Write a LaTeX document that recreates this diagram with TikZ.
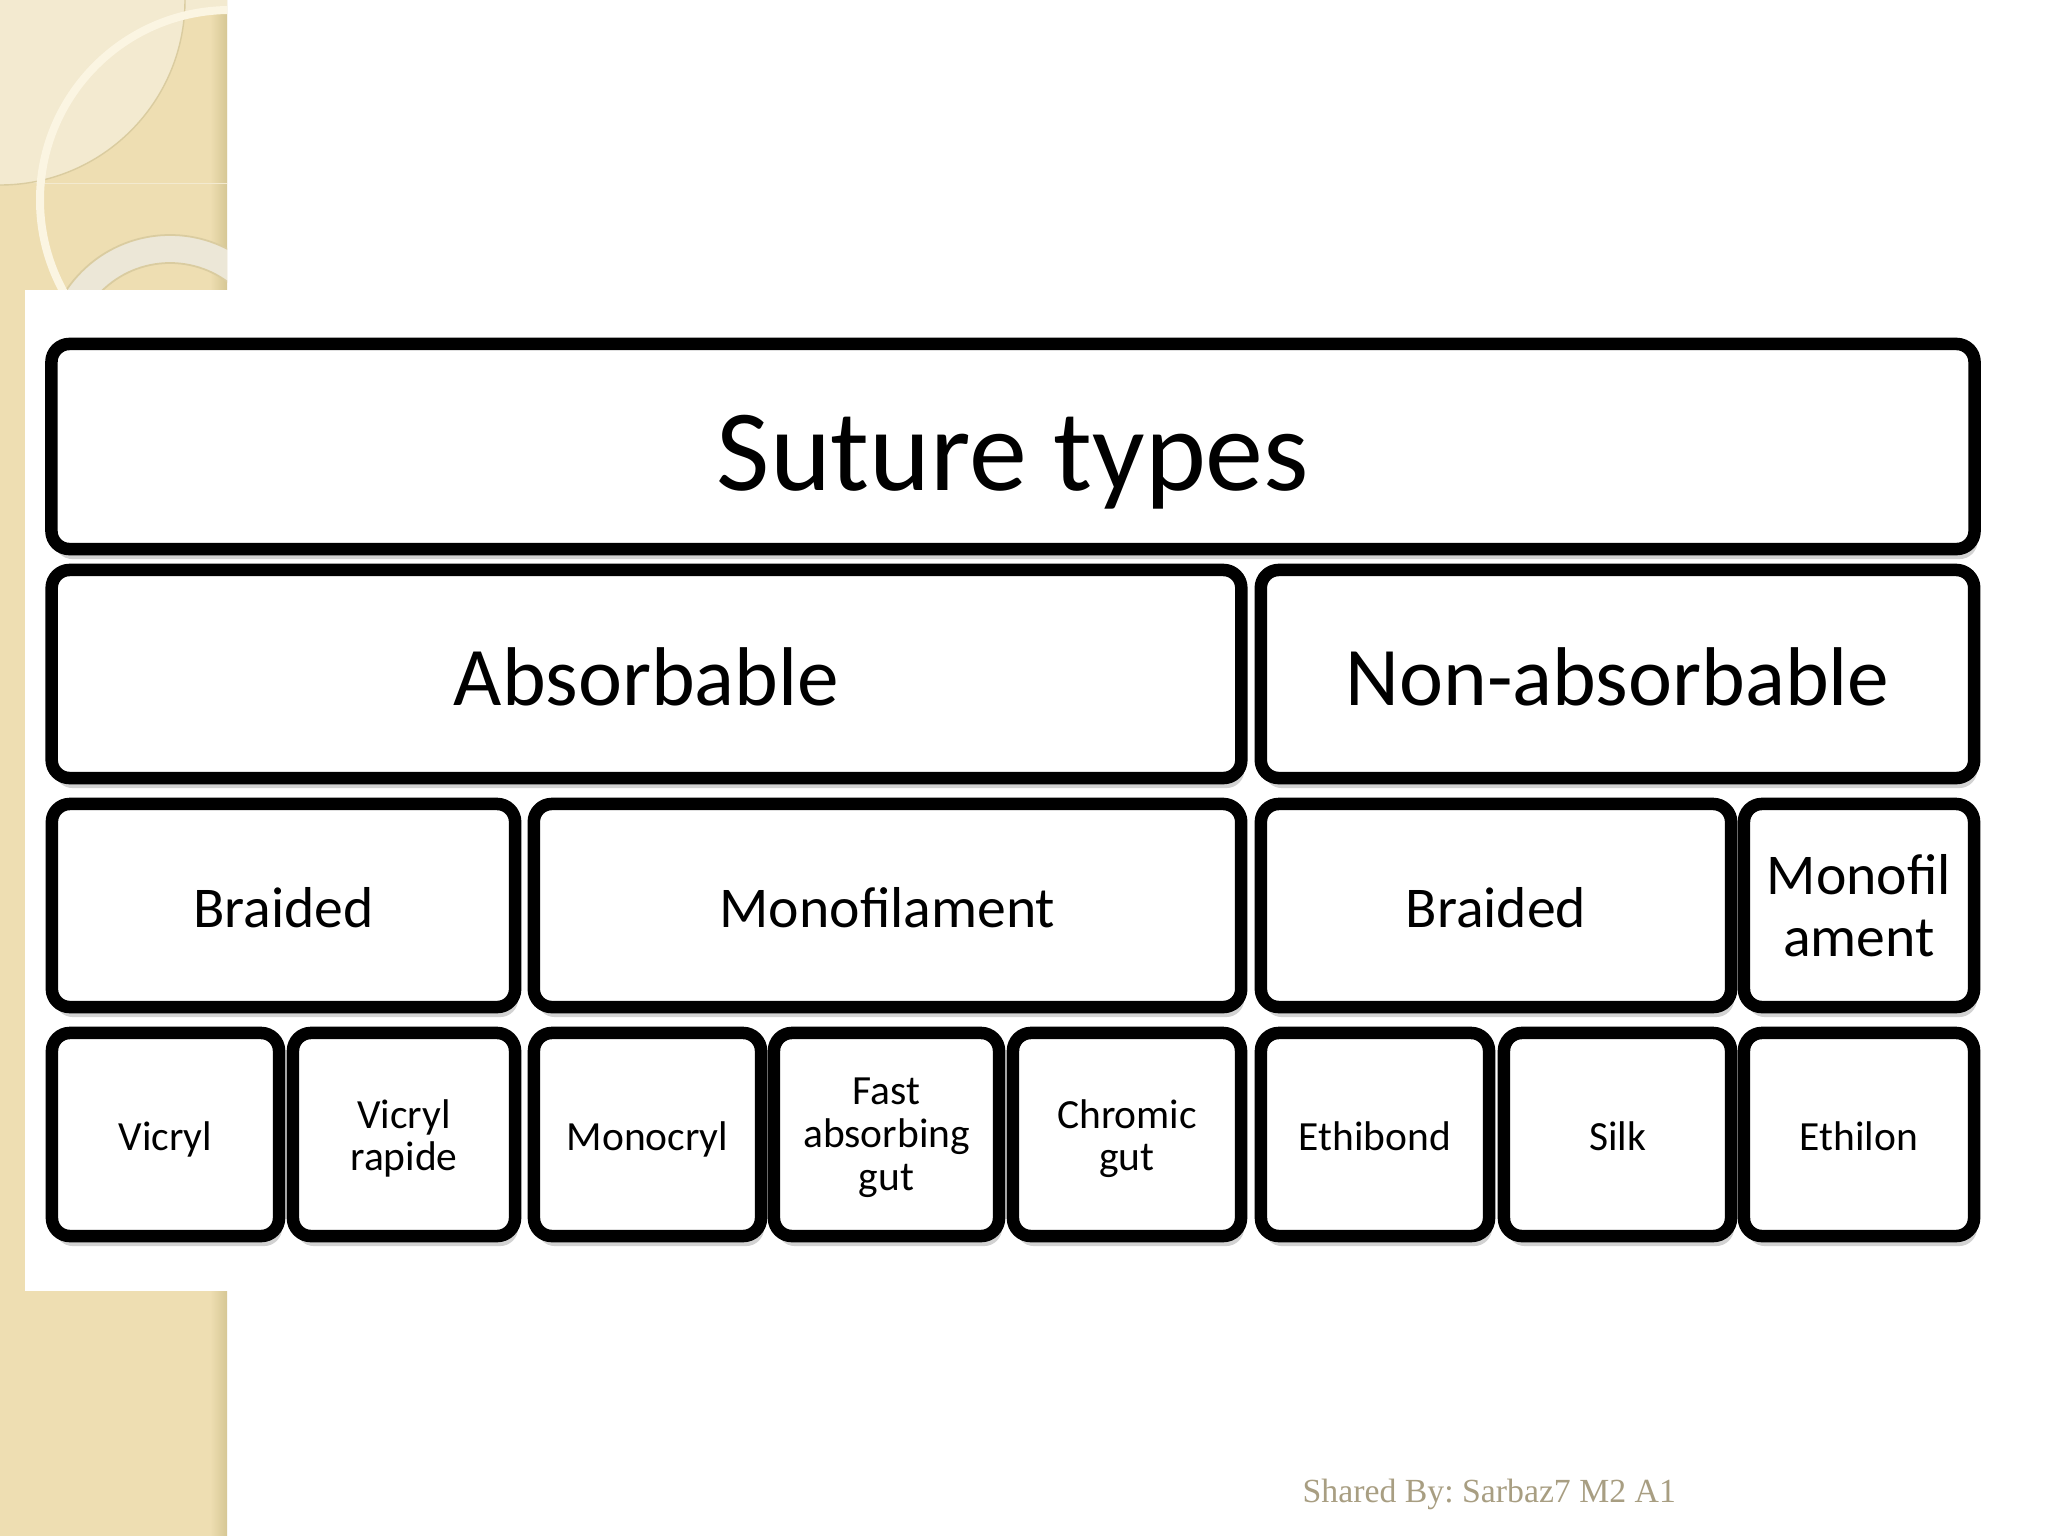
\documentclass[tikz,border=0pt]{standalone}
\usepackage{fontspec}
\setmainfont{Carlito}
\newfontfamily\creditfont{Liberation Serif}
\usepackage{xcolor}
\usepackage{tikz}
\usetikzlibrary{shadows}
\frenchspacing

\definecolor{stripbeige}{RGB}{238,222,178}
\definecolor{stripedge}{RGB}{214,199,148}
\definecolor{striplight}{RGB}{243,234,208}
\definecolor{arccream}{RGB}{251,245,226}
\definecolor{ringcream}{RGB}{236,231,215}
\definecolor{ringline}{RGB}{218,204,160}
\definecolor{creditgrey}{RGB}{168,158,130}

% stacked lines, first baseline on the node's base
\newcommand{\lines}[1]{\begin{tabular}[t]{@{}c@{}}#1\end{tabular}}

\tikzset{
  sbox/.style={draw=black,line width=0.125cm,rounded corners=0.18cm,fill=white,
    inner sep=0pt,outer sep=0pt,anchor=center,
    drop shadow={shadow xshift=0.03cm,shadow yshift=-0.1cm,opacity=.22,fill=black!80}},
  cell/.style 2 args={minimum width=#1cm,minimum height=#2cm},
  titlebox/.style={sbox,font=\fontsize{33}{40}\selectfont,text height=31.7pt,text depth=6.6pt},
  groupbox/.style={sbox,font=\fontsize{23.7}{28}\selectfont,text height=22.8pt,text depth=4.7pt},
  kindbox/.style={sbox,font=\fontsize{16.4}{17.6}\selectfont,text height=15.7pt,text depth=3.3pt},
  kindstack/.style={sbox,font=\fontsize{16.4}{17.6}\selectfont,text height=0pt,text depth=#1},
  itembox/.style={sbox,font=\fontsize{11.8}{12.1}\selectfont,text height=11.3pt,text depth=2.3pt},
  itemstack/.style={sbox,font=\fontsize{11.8}{12.1}\selectfont,text height=0pt,text depth=#1},
  credit/.style={font=\creditfont\fontsize{9.6}{11}\selectfont,text=creditgrey,inner sep=0pt}
}

\begin{document}
\begin{tikzpicture}[x=0.01cm,y=-0.01cm,line join=round]
  \useasboundingbox (0,0) rectangle (2048,1536);
  \fill[white] (0,0) rectangle (2048,1536);

  % ---------- beige side strip ----------
  \fill[stripbeige] (0,0) rectangle (227,1536);
  \shade[left color=stripbeige,right color=stripedge] (210,0) rectangle (227,1536);
  \begin{scope}
    \clip (0,0) rectangle (227,183);
    \fill[striplight,even odd rule] (0,0) rectangle (227,183) (230,200) circle (190);
  \end{scope}
  \begin{scope}
    \clip (0,0) rectangle (227,290);
    \fill[striplight] (0,0) circle (185);
    \draw[ringline,line width=0.4pt] (185,0) arc (0:90:185);
    % lower ring
    \fill[ringcream,even odd rule] (170,360) circle (125) (170,360) circle (97);
    \draw[ringline,line width=0.5pt] (170,360) circle (125) (170,360) circle (97);
    % big arc
    \draw[arccream,line width=0.08cm] (230,200) circle (190);
  \end{scope}

  % ---------- white panel ----------
  \fill[white] (25,290) rectangle (2048,1291);

  % ---------- top row ----------
  \node[titlebox,cell={19.22}{2.05}] (suture) at (1013,446.5) {Suture types};

  % ---------- absorbable / non-absorbable ----------
  \node[groupbox,cell={11.89}{2.08}] (absorb) at (646.5,674) {Absorbable};
  \node[groupbox,cell={7.13}{2.08}] (nonabsorb) at (1617.5,674) {Non-absorbable};

  % ---------- braided / monofilament ----------
  \node[kindbox,cell={4.63}{2.03}] (abraid) at (283.5,905.5) {Braided};
  \node[kindbox,cell={7.07}{2.03}] (amono) at (887.5,905.5) {Monofilament};
  \node[kindbox,cell={4.70}{2.03}] (nbraid) at (1496,905.5) {Braided};
  \node[kindstack=6pt,cell={2.30}{2.03}] (nmono) at (1859,905.5) {\lines{Monofil\\ament}};

  % ---------- the sutures ----------
  \node[itembox,cell={2.27}{2.03}] (vicryl) at (165.5,1134.5) {Vicryl};
  \node[itemstack=3.7pt,cell={2.22}{2.03}] (rapide) at (404,1134.5) {\lines{Vicryl\\rapide}};
  \node[itembox,cell={2.27}{2.03}] (monocryl) at (647.5,1134.5) {Monocryl};
  \node[itemstack=16.8pt,cell={2.25}{2.03}] (fastgut) at (886.5,1134.5) {\lines{Fast\\absorbing\\gut}};
  \node[itemstack=3.7pt,cell={2.28}{2.03}] (chromic) at (1127,1134.5) {\lines{Chromic\\gut}};
  \node[itembox,cell={2.28}{2.03}] (ethibond) at (1375,1134.5) {Ethibond};
  \node[itembox,cell={2.27}{2.03}] (silk) at (1617.5,1134.5) {Silk};
  \node[itembox,cell={2.30}{2.03}] (ethilon) at (1859,1134.5) {Ethilon};

  % ---------- footer ----------
  \node[credit,anchor=base west] (shared) at (1302,1502) {Shared By: Sarbaz7 M2 A1};
\end{tikzpicture}
\end{document}
